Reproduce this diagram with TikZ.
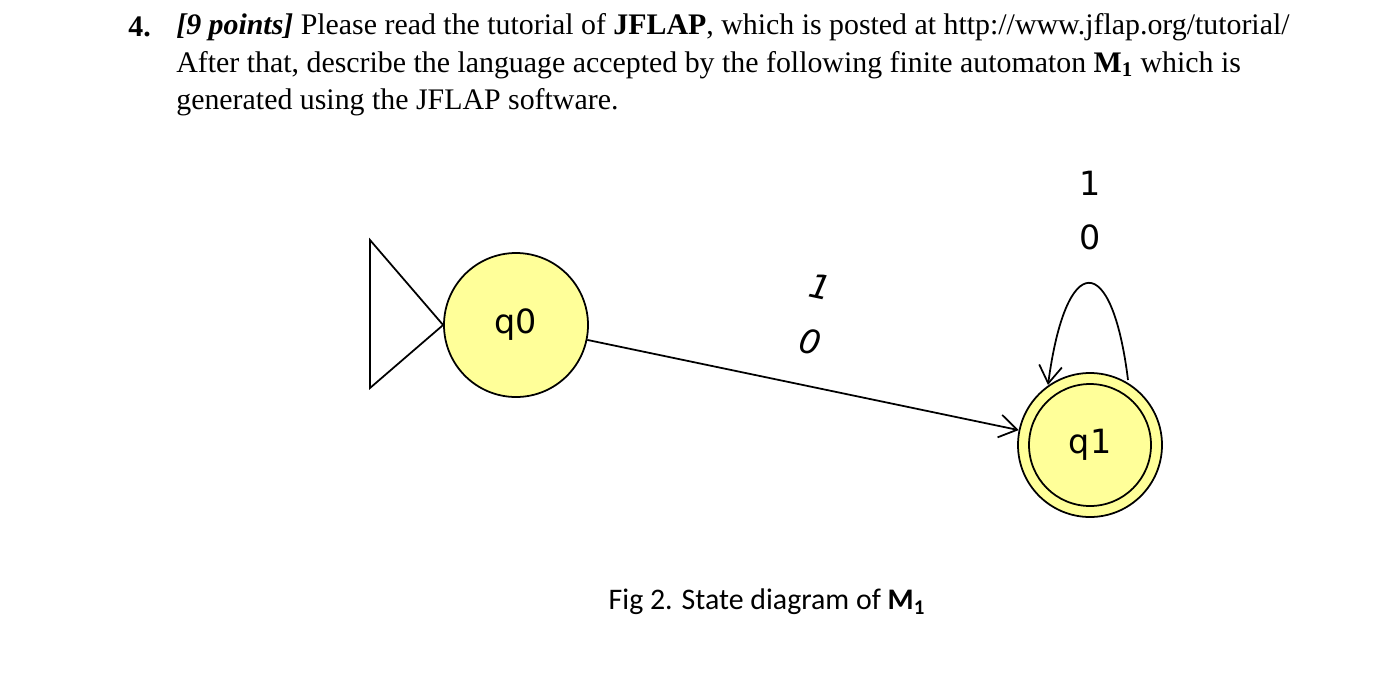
\documentclass[tikz,border=0pt]{standalone}
\usepackage{fontspec}
\setmainfont{Liberation Serif}
\newfontfamily\djv{DejaVu Sans}
\newfontfamily\carlitofont{Carlito}
\usetikzlibrary{arrows.meta}
\definecolor{sy}{RGB}{255,255,153}
\tikzset{st/.style={circle,draw,fill=sy,line width=1pt,minimum size=144*0.02cm,inner sep=0pt,font=\djv\fontsize{19}{23}\selectfont},
lab/.style={font=\djv\fontsize{19}{23}\selectfont,inner sep=0pt},
txt/.style={anchor=west,inner sep=0pt,font=\fontsize{17}{21}\selectfont},
arr/.style={line width=1pt,-{Straight Barb[length=10pt,width=13pt]}}}
\begin{document}
\begin{tikzpicture}[x=0.02cm,y=-0.02cm]
\useasboundingbox (0,0) rectangle (1388,684);
\node[txt] (l0) at (128,27) {\textbf{4.}};
\node[txt] (l1) at (176,27) {\textbf{\textit{[9 points]}} Please read the tutorial of \textbf{JFLAP}, which is posted at http://www.jflap.org/tutorial/};
\node[txt] (l2) at (176,65) {After that, describe the language accepted by the following finite automaton \textbf{M\textsubscript{1}} which is};
\node[txt] (l3) at (176,102) {generated using the JFLAP software.};
\node[st] (q0) at (516,325) {q0};
\node[st] (q1) at (1090,445) {q1};
\draw[line width=1pt] (q1.center) circle (61*0.02cm);
\draw[line width=1pt] (370,240) -- (370,388) -- (q0.west) -- cycle;
\draw[arr] (q0) -- (q1);
\node[lab,rotate=-12] (e1) at (820,287) {\itshape 1};
\node[lab,rotate=-12] (e0) at (810,342) {\itshape 0};
\draw[arr] (1128,380) coordinate (ls) .. controls (1112,250) and (1066,250) .. (1048,385) coordinate (le);
\node[lab] (s1) at (1090,183) {1};
\node[lab] (s0) at (1090,237) {0};
\node[font=\carlitofont\fontsize{17}{21}\selectfont] (cap) at (767,602) {Fig 2. State diagram of \textbf{M\textsubscript{1}}};
\end{tikzpicture}
\end{document}
